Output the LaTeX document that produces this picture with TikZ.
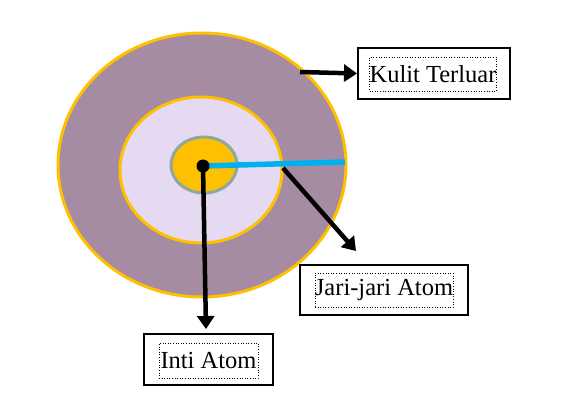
\documentclass[tikz,border=0pt]{standalone}
\usepackage{fontspec}
\setmainfont{Liberation Serif}
\usetikzlibrary{shapes.geometric,arrows.meta}
\definecolor{outerfill}{HTML}{A68CA2}
\definecolor{gold}{HTML}{FFC000}
\definecolor{midfill}{HTML}{E5DAF1}
\definecolor{coreedge}{HTML}{8EA7A0}
\definecolor{radblue}{HTML}{00B0F0}
\tikzset{
  ring/.style={ellipse, draw=gold, line width=3pt, inner sep=0pt},
  box/.style={draw=black, line width=2pt, fill=white, inner sep=0pt},
  lbl/.style={draw=black, dotted, line width=0.6pt, inner sep=0pt, font=\fontsize{24.5}{27}\selectfont},
  arr/.style={line width=4.5pt, -{Triangle[length=13pt,width=17pt]}},
}
\begin{document}
\begin{tikzpicture}[x=1pt,y=-1pt]
\useasboundingbox (0,0) rectangle (581,417);
% atom
\node[ring, fill=outerfill, minimum width=288, minimum height=264] (outer) at (202,165) {};
\node[ring, fill=midfill, minimum width=162, minimum height=146] (mid) at (201,170) {};
\node[ellipse, draw=coreedge, fill=gold, line width=3pt, inner sep=0pt, minimum width=66, minimum height=56] (core) at (204,165) {};
% radius line
\coordinate (rim) at (345,162);
\draw[draw=radblue, line width=5.5pt] (203,166) -- (rim);
\node[circle, fill=black, inner sep=0pt, minimum size=13pt] (dot) at (203,166) {};
% boxes
\node[box, minimum width=152, minimum height=51] (kb) at (434,73.5) {};
\node[lbl, minimum width=120, minimum height=34] (kt) at (433,74) {Kulit Terluar};
\node[box, minimum width=168, minimum height=50] (jb) at (384,290) {};
\node[lbl, minimum width=138, minimum height=34] (jt) at (384,290) {Jari-jari Atom};
\node[box, minimum width=129, minimum height=51] (ib) at (208.5,359.5) {};
\node[lbl, minimum width=99, minimum height=35] (it) at (208.5,360.5) {Inti Atom};
% connectors
\coordinate (ks) at (300,72);
\coordinate (js) at (283,168);
\coordinate (je) at (356,251);
\coordinate (ie) at (206,329);
\draw[arr] (ks) -- (kb.west);
\draw[arr] (js) -- (je);
\draw[arr] (dot.center) -- (ie);
\end{tikzpicture}
\end{document}
